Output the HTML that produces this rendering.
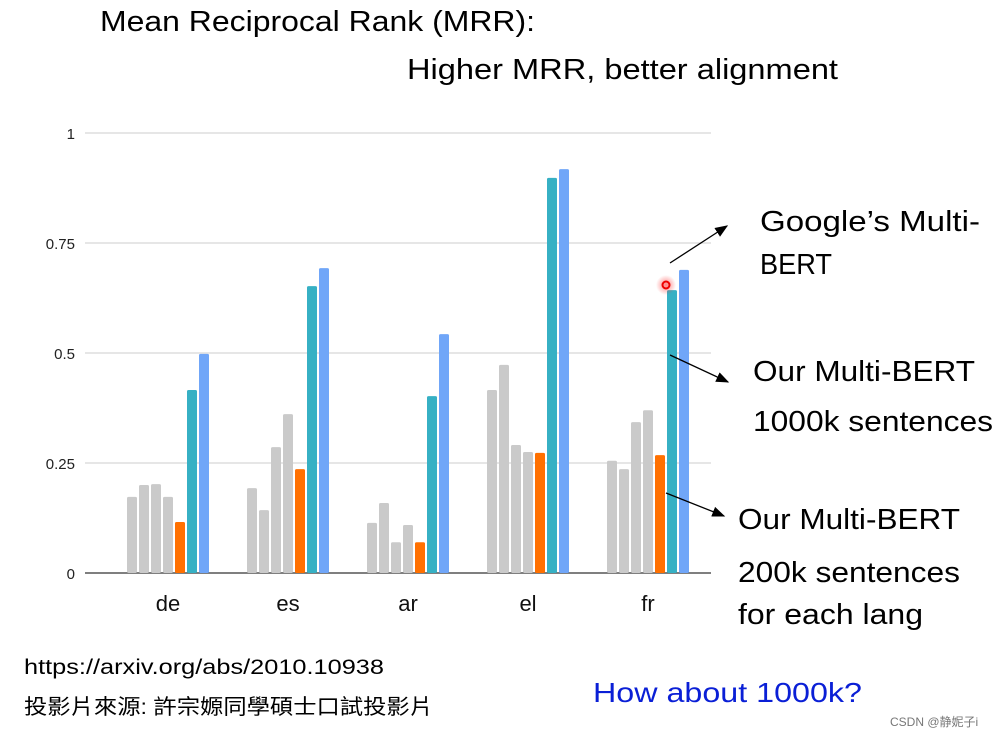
<!DOCTYPE html>
<html><head><meta charset="utf-8"><style>
html,body{margin:0;padding:0;background:#fff;width:1007px;height:739px;overflow:hidden}
text{font-family:"Liberation Sans","Noto Sans CJK TC",sans-serif}
</style></head><body>
<svg id="chart" width="1007" height="739" xmlns="http://www.w3.org/2000/svg">
<defs><marker id="ah" markerWidth="10" markerHeight="8" refX="9" refY="4" orient="auto"><path d="M0,0 L10,4 L0,8 z" fill="#000"/></marker>
<radialGradient id="glow"><stop offset="0" stop-color="#ff3030" stop-opacity="0.6"/><stop offset="1" stop-color="#ff3030" stop-opacity="0"/></radialGradient></defs>
<text x="100" y="31" font-size="29" textLength="435" lengthAdjust="spacingAndGlyphs" fill="#000">Mean Reciprocal Rank (MRR):</text>
<text x="407" y="79" font-size="29" textLength="431" lengthAdjust="spacingAndGlyphs" fill="#000">Higher MRR, better alignment</text>
<g id="grid"></g><g id="bars"></g><g id="labels"></g>
<line x1="670" y1="263" x2="727" y2="226" stroke="#000" stroke-width="1.3" marker-end="url(#ah)"/>
<line x1="670" y1="355" x2="728" y2="382" stroke="#000" stroke-width="1.3" marker-end="url(#ah)"/>
<line x1="666" y1="493" x2="724" y2="516" stroke="#000" stroke-width="1.3" marker-end="url(#ah)"/>
<circle cx="666" cy="285" r="10" fill="url(#glow)"/>
<circle cx="666" cy="285" r="3.5" fill="none" stroke="#e00" stroke-width="2"/>
<text x="760" y="231" font-size="29" textLength="220" lengthAdjust="spacingAndGlyphs">Google’s Multi-</text>
<text x="760" y="274" font-size="29" textLength="72" lengthAdjust="spacingAndGlyphs">BERT</text>
<text x="753" y="381" font-size="29" textLength="222" lengthAdjust="spacingAndGlyphs">Our Multi-BERT</text>
<text x="753" y="431" font-size="29" textLength="240" lengthAdjust="spacingAndGlyphs">1000k sentences</text>
<text x="738" y="529" font-size="29" textLength="222" lengthAdjust="spacingAndGlyphs">Our Multi-BERT</text>
<text x="738" y="582" font-size="29" textLength="222" lengthAdjust="spacingAndGlyphs">200k sentences</text>
<text x="738" y="624" font-size="29" textLength="185" lengthAdjust="spacingAndGlyphs">for each lang</text>
<text x="24" y="674" font-size="21" textLength="360" lengthAdjust="spacingAndGlyphs">https://arxiv.org/abs/2010.10938</text>
<text x="24" y="714" font-size="21" textLength="409" lengthAdjust="spacingAndGlyphs">投影片來源: 許宗嫄同學碩士口試投影片</text>
<text x="593" y="702" font-size="28" textLength="269" lengthAdjust="spacingAndGlyphs" fill="#0a1fd6">How about 1000k?</text>
<text x="890" y="726" font-size="12" fill="#777">CSDN @静妮子i</text>
</svg>
<script>
const categories=["de","es","ar","el","fr"];
const gray1=[0.173,0.193,0.114,0.416,0.255];
const gray2=[0.200,0.143,0.159,0.473,0.236];
const gray3=[0.202,0.286,0.070,0.291,0.343];
const gray4=[0.173,0.361,0.109,0.275,0.370];
const orange=[0.116,0.236,0.070,0.273,0.268];
const teal=[0.416,0.652,0.402,0.898,0.643];
const blue=[0.498,0.693,0.543,0.918,0.689];
const yTicks=[0,0.25,0.5,0.75,1];
const yTickLabels=["0","0.25","0.5","0.75","1"];
const NS="http://www.w3.org/2000/svg";
const y=v=>573-v*440;
const x=(i,j)=>127+i*120+j*12;
function mk(t,a,p){const e=document.createElementNS(NS,t);for(const k in a)e.setAttribute(k,a[k]);p.appendChild(e);return e;}
const grid=document.getElementById('grid'),bars=document.getElementById('bars'),labels=document.getElementById('labels');
yTicks.forEach((t,i)=>{
 const l=mk('line',{x1:85,x2:711,y1:y(t),y2:y(t),stroke:t===0?'#555':'#ddd','stroke-width':1.5},grid);
 
 
 const tx=mk('text',{x:75,y:y(t)+6,'text-anchor':'end','font-size':15,fill:'#222'},labels);
 tx.textContent=yTickLabels[i];
 
 
});
const series=[gray1,gray2,gray3,gray4,orange,teal,blue];
const colors=['#cacaca','#cacaca','#cacaca','#cacaca','#ff7000','#36b0c4','#70a6f8'];
const names=['gray1','gray2','gray3','gray4','orange','teal','blue'];
categories.forEach((c,i)=>{
 series.forEach((s,j)=>{
  const r=mk('rect',{x:x(i,j),y:y(s[i]),width:10,height:573-y(s[i]),fill:colors[j],rx:1.5},bars);
  
  
 });
 const t=mk('text',{x:x(i,3)+5,y:611,'text-anchor':'middle','font-size':22,fill:'#111'},labels);
 t.textContent=c;
 
 
});
</script>
</body></html>
